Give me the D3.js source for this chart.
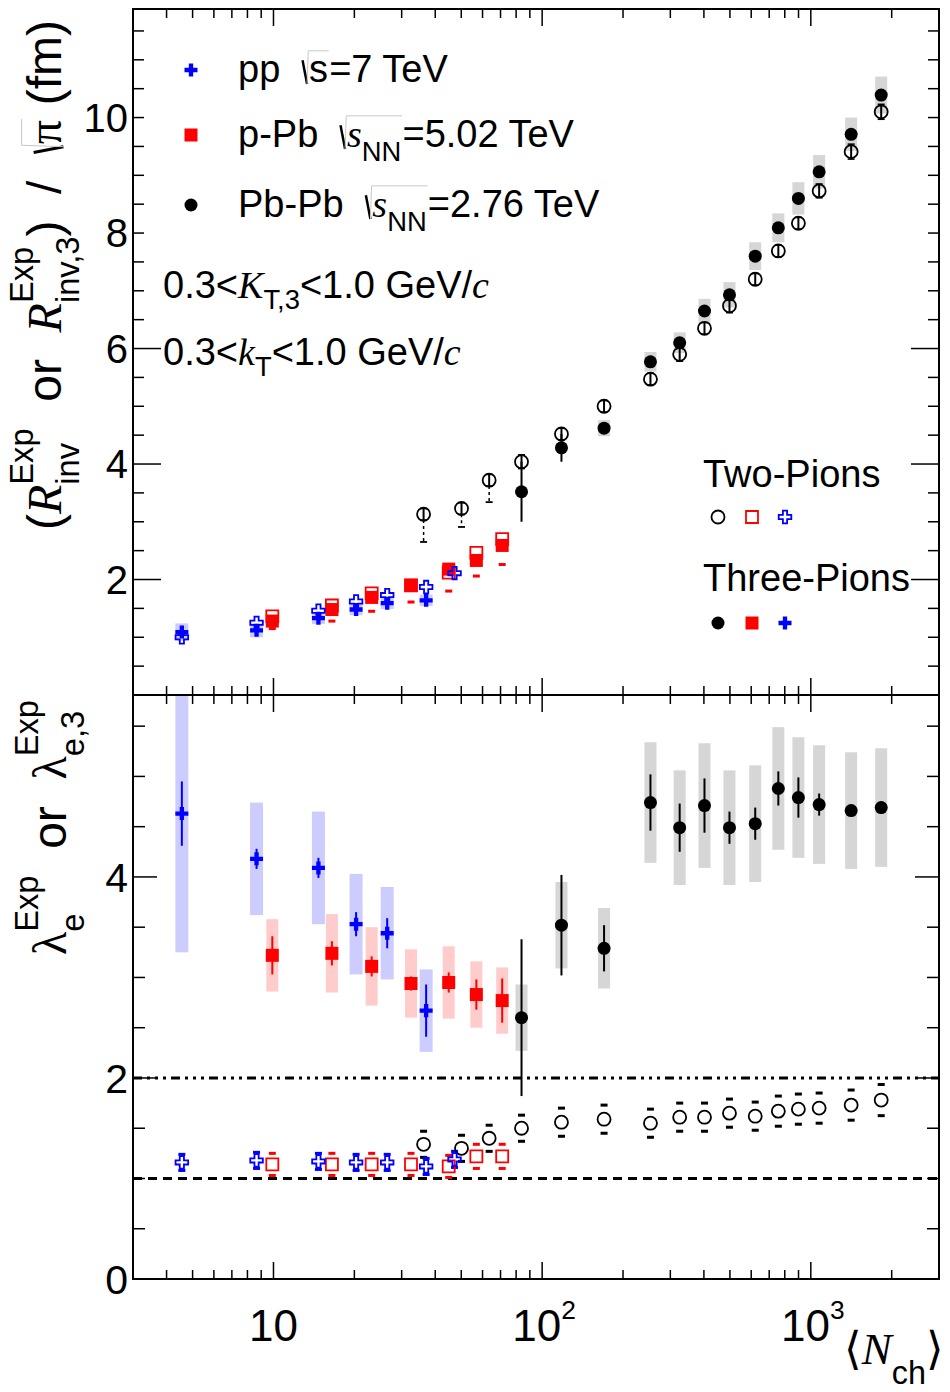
<!DOCTYPE html>
<html>
<head>
<meta charset="utf-8">
<script src="https://cdn.jsdelivr.net/npm/d3@7"></script>
<style>
  body { margin: 0; background: #fff; }
  svg { display: block; }
</style>
</head>
<body>
<div id="chart_div"></div>
<script>
const SANS = "'Liberation Sans', Arial, Helvetica, sans-serif"
const SERIF = "'Liberation Serif', 'Times New Roman', serif"

// ---- data: <N_ch> positions
const pbpbN2 = [36.2, 50.1, 63.5, 83.8, 118, 170, 253, 325, 402, 498, 621, 757, 899, 1074, 1413, 1828]
const pbpbN3 = [83.8, 118, 170, 253, 325, 402, 498, 621, 757, 899, 1074, 1413, 1828]
const ppbN = [9.9, 16.5, 23.2, 32.5, 44.9, 56.9, 71.0]
const ppN2 = [4.56, 8.65, 14.7, 20.3, 26.5, 37.0, 47.2]
const ppN3 = [4.56, 8.65, 14.7, 20.3, 26.5, 37.0]

// ---- top panel: R_inv / sqrt(pi)
const pbpbR3 = [3.52, 4.28, 4.62, 5.77, 6.10, 6.65, 6.93, 7.60, 8.09, 8.60, 9.06, 9.71, 10.39]
const pbpbR3Stat = [0.52, 0.24, 0.10, 0.05, 0.05, 0.05, 0.05, 0.05, 0.05, 0.05, 0.05, 0.06, 0.06]
const pbpbR3Sys = [0.05, 0.06, 0.14, 0.17, 0.18, 0.21, 0.22, 0.24, 0.25, 0.28, 0.29, 0.29, 0.32]
const pbpbR2 = [3.13, 3.23, 3.72, 4.04, 4.52, 5.00, 5.47, 5.90, 6.35, 6.74, 7.20, 7.69, 8.17, 8.73, 9.41, 10.10]
const pbpbR2Stat = [0.10, 0.10, 0.10, 0.12, 0.10, 0.10, 0.10, 0.12, 0.10, 0.12, 0.10, 0.10, 0.10, 0.12, 0.13, 0.13]
const pbpbR2SysLow = [2.65, 2.91, 3.34, null, null, null, null, null, null, null, null, null, null, null, null, null]
const ppbR3 = [1.28, 1.48, 1.69, 1.90, 2.18, 2.33, 2.59]
const ppbR2 = [1.36, 1.55, 1.76, 1.90, 2.12, 2.46, 2.70]
const ppbR2SysLow = [1.15, 1.28, 1.45, 1.61, 1.80, 2.06, 2.26]
const ppR3 = [1.09, 1.12, 1.33, 1.48, 1.59, 1.64]
const ppR3Sys = [0.15, 0.12, 0.10, 0.10, 0.10, 0.10]
const ppR2 = [1.00, 1.25, 1.46, 1.62, 1.73, 1.87, 2.11]

// ---- bottom panel: lambda_e
const pbpbL3 = [2.60, 3.52, 3.29, 4.74, 4.49, 4.71, 4.49, 4.53, 4.88, 4.79, 4.72, 4.66, 4.69]
const pbpbL3Stat = [0.78, 0.50, 0.23, 0.28, 0.24, 0.27, 0.16, 0.16, 0.17, 0.20, 0.11, 0.05, 0.06]
const pbpbL3Sys = [0.33, 0.43, 0.40, 0.60, 0.57, 0.62, 0.57, 0.58, 0.61, 0.60, 0.59, 0.58, 0.59]
const pbpbL2 = [1.34, 1.30, 1.40, 1.50, 1.56, 1.59, 1.55, 1.61, 1.61, 1.65, 1.62, 1.67, 1.69, 1.70, 1.73, 1.78]
const pbpbL2Sys = [0.13, 0.13, 0.13, 0.13, 0.14, 0.14, 0.14, 0.14, 0.14, 0.14, 0.14, 0.15, 0.15, 0.15, 0.15, 0.155]
const ppbL3 = [3.22, 3.24, 3.11, 2.94, 2.95, 2.83, 2.77]
const ppbL3Stat = [0.19, 0.12, 0.10, 0.07, 0.10, 0.15, 0.22]
const ppbL3Sys = [0.36, 0.39, 0.39, 0.34, 0.36, 0.33, 0.33]
const ppbL2 = [1.14, 1.14, 1.14, 1.14, 1.12, 1.22, 1.22]
const ppbL2Sys = [0.11, 0.11, 0.11, 0.11, 0.11, 0.12, 0.12]
const ppL3 = [4.63, 4.18, 4.09, 3.53, 3.44, 2.67]
const ppL3Stat = [0.32, 0.10, 0.10, 0.12, 0.15, 0.26]
const ppL3Sys = [1.38, 0.56, 0.56, 0.50, 0.46, 0.41]
const ppL2 = [1.16, 1.18, 1.17, 1.16, 1.16, 1.12, 1.19]
const ppL2Sys = [0.08, 0.08, 0.08, 0.08, 0.08, 0.08, 0.08]

// ---- reference lines and ticks
const refLines = [{y: 2, dash: "9,5,3,5,3,5,3,5"}, {y: 1, dash: "9,6"}]
const topTickValues = [2, 4, 6, 8, 10]
const topLongTicks = [2, 4, 6]
const botTickValues = [0, 2, 4]
const xTickValues = [10, 100, 1000]
const xTickExps = ["", "2", "3"]

// colours
const blue = "#0000ff", red = "#ff0000", black = "#000000"
const blueBox = "#ccccff", redBox = "#ffcccc", greyBox = "#d6d6d6"

// frame geometry
const L = 133, R = 939, T = 9, M = 695, B = 1279

const svg = d3.select("#chart_div")
  .append("svg")
  .attr("width", 950)
  .attr("height", 1392)
  .attr("viewBox", "0 0 950 1392")

// scales
const x = d3.scaleLog().domain([3, 3000]).range([L, R])
const yTop = d3.scaleLinear().domain([0, 11.88]).range([M, T])
const yBot = d3.scaleLinear().domain([0, 5.81]).range([B, M])

// ---------- small latex-ish text helper ----------
const addRun = (g, px, py, str, fs, p) => {
  const t = g.append("text")
    .attr("x", px).attr("y", py)
    .attr("font-family", p.f === "serif" ? SERIF : SANS)
    .attr("font-style", p.i ? "italic" : "normal")
    .attr("font-size", fs)
    .attr("fill", "#000")
    .text(str)
  return t.node().getComputedTextLength()
}

const layoutLatex = (g, parts, fs, x0) => {
  let xc = x0
  parts.forEach(p => {
    if (p.sqrt) {
      g.append("line")
        .attr("x1", xc + 0.03 * fs).attr("y1", -0.57 * fs)
        .attr("x2", xc + 0.15 * fs).attr("y2", 0.05 * fs)
        .attr("stroke", "#000").attr("stroke-width", 0.065 * fs)
      const xs = xc + 0.2 * fs
      const xe = layoutLatex(g, p.sqrt, fs, xs)
      g.append("path")
        .attr("d", `M${xc + 0.15 * fs},${0.05 * fs}L${xc + 0.18 * fs},${-0.82 * fs}L${xe + 0.02 * fs},${-0.82 * fs}`)
        .attr("fill", "none").attr("stroke", "#c8c8c8").attr("stroke-width", 1)
      xc = xe + 0.03 * fs
    } else if (p.sub !== undefined || p.sup !== undefined) {
      const ss = (p.ss || 0.72) * fs
      let w1 = 0, w2 = 0
      if (p.sup !== undefined) w1 = addRun(g, xc, -(p.up || 0.62) * fs, p.sup, ss, p)
      if (p.sub !== undefined) w2 = addRun(g, xc, (p.dn || 0.38) * fs, p.sub, ss, p)
      xc += Math.max(w1, w2)
    } else {
      xc += addRun(g, xc, 0, p.t, fs, p)
    }
  })
  return xc
}

const drawLatex = (parent, parts, fs, px, py, opts = {}) => {
  const outer = parent.append("g")
  const inner = outer.append("g")
  const w = layoutLatex(inner, parts, fs, 0)
  let dx = 0
  if (opts.anchor === "middle") dx = -w / 2
  if (opts.anchor === "end") dx = -w
  inner.attr("transform", `translate(${dx},0)`)
  outer.attr("transform", `translate(${px},${py})` + (opts.rotate ? ` rotate(${opts.rotate})` : ""))
  return w
}

// ---------- markers ----------
const symPath = (type, size) => d3.symbol().type(type).size(size)()
const M_CIRCLE = symPath(d3.symbolCircle, 133)
const M_SQUARE = symPath(d3.symbolSquare, 169)
const M_OSQUARE = symPath(d3.symbolSquare, 144)
const M_CROSS = symPath(d3.symbolCross, 94)
const M_OCROSS = symPath(d3.symbolCross, 88)

const zip = (xs, ys, extra = {}) => xs.map((d, i) => {
  const o = {x: d, y: ys[i]}
  Object.keys(extra).forEach(k => { o[k] = extra[k][i] })
  return o
})

const drawMarkers = (g, data, yS, path, fill, stroke) => {
  g.append("g").selectAll("path")
    .data(data)
    .join("path")
    .attr("d", path)
    .attr("transform", d => `translate(${x(d.x)},${yS(d.y)})`)
    .attr("fill", fill)
    .attr("stroke", stroke || "none")
    .attr("stroke-width", stroke ? 1.8 : 0)
}

const drawBoxes = (g, data, yS, w, fill) => {
  g.append("g").selectAll("rect")
    .data(data)
    .join("rect")
    .attr("x", d => x(d.x) - w / 2)
    .attr("width", w)
    .attr("y", d => yS(d.y + d.sys))
    .attr("height", d => yS(d.y - d.sys) - yS(d.y + d.sys))
    .attr("fill", fill)
}

const drawStat = (g, data, yS, color, cap) => {
  const eg = g.append("g")
  eg.selectAll("line")
    .data(data)
    .join("line")
    .attr("x1", d => x(d.x)).attr("x2", d => x(d.x))
    .attr("y1", d => yS(d.y - d.stat)).attr("y2", d => yS(d.y + d.stat))
    .attr("stroke", color).attr("stroke-width", 2)
  if (cap) {
    data.forEach(d => {
      [d.y - d.stat, d.y + d.stat].forEach(v => {
        eg.append("line")
          .attr("x1", x(d.x) - 3.5).attr("x2", x(d.x) + 3.5)
          .attr("y1", yS(v)).attr("y2", yS(v))
          .attr("stroke", color).attr("stroke-width", 1.5)
      })
    })
  }
}

const drawCaps = (g, data, yS, color) => {
  const cg = g.append("g")
  data.forEach(d => {
    [d.y - d.sys, d.y + d.sys].forEach(v => {
      cg.append("rect")
        .attr("x", x(d.x) - 3.5).attr("width", 7)
        .attr("y", yS(v) - 1.5).attr("height", 3)
        .attr("fill", color)
    })
  })
}

// clip paths
const defs = svg.append("defs")
defs.append("clipPath").attr("id", "clipTop").append("rect")
  .attr("x", L).attr("y", T).attr("width", R - L).attr("height", M - T)
defs.append("clipPath").attr("id", "clipBot").append("rect")
  .attr("x", L).attr("y", M).attr("width", R - L).attr("height", B - M)

// ================= top panel =================
const topPanel = svg.append("g").attr("clip-path", "url(#clipTop)")

// systematic boxes
drawBoxes(topPanel, zip(pbpbN3, pbpbR3, {sys: pbpbR3Sys}), yTop, 12, greyBox)
drawBoxes(topPanel, zip(ppN3, ppR3, {sys: ppR3Sys}), yTop, 13, blueBox)

// two-pion lower systematic (dashed) and stat bars
const pbpb2Top = zip(pbpbN2, pbpbR2, {stat: pbpbR2Stat, low: pbpbR2SysLow})
pbpb2Top.filter(d => d.low !== null).forEach(d => {
  topPanel.append("line")
    .attr("x1", x(d.x)).attr("x2", x(d.x))
    .attr("y1", yTop(d.y - d.stat)).attr("y2", yTop(d.low))
    .attr("stroke", black).attr("stroke-width", 1.5).attr("stroke-dasharray", "3,3")
  topPanel.append("line")
    .attr("x1", x(d.x) - 3.5).attr("x2", x(d.x) + 3.5)
    .attr("y1", yTop(d.low)).attr("y2", yTop(d.low))
    .attr("stroke", black).attr("stroke-width", 1.8)
})
zip(ppbN, ppbR2, {low: ppbR2SysLow}).forEach(d => {
  topPanel.append("rect")
    .attr("x", x(d.x) - 3.5).attr("width", 7)
    .attr("y", yTop(d.low) - 1.5).attr("height", 3)
    .attr("fill", red)
})

// Pb-Pb three-pion
const pbpb3Top = zip(pbpbN3, pbpbR3, {stat: pbpbR3Stat})
drawStat(topPanel, pbpb3Top, yTop, black, false)
drawMarkers(topPanel, pbpb3Top, yTop, M_CIRCLE, black)
// Pb-Pb two-pion
drawStat(topPanel, pbpb2Top, yTop, black, true)
drawMarkers(topPanel, pbpb2Top, yTop, M_CIRCLE, "none", black)

// p-Pb
drawMarkers(topPanel, zip(ppbN, ppbR3), yTop, M_SQUARE, red)
drawMarkers(topPanel, zip(ppbN, ppbR2), yTop, M_OSQUARE, "none", red)

// pp
drawMarkers(topPanel, zip(ppN3, ppR3), yTop, M_CROSS, blue)
drawMarkers(topPanel, zip(ppN2, ppR2), yTop, M_OCROSS, "none", blue)

// ================= bottom panel =================
const botPanel = svg.append("g").attr("clip-path", "url(#clipBot)")

drawBoxes(botPanel, zip(pbpbN3, pbpbL3, {sys: pbpbL3Sys}), yBot, 12, greyBox)
drawBoxes(botPanel, zip(ppbN, ppbL3, {sys: ppbL3Sys}), yBot, 12, redBox)
drawBoxes(botPanel, zip(ppN3, ppL3, {sys: ppL3Sys}), yBot, 13, blueBox)

// reference lines
botPanel.selectAll(".ref")
  .data(refLines)
  .join("line")
  .attr("x1", L).attr("x2", R)
  .attr("y1", d => yBot(d.y)).attr("y2", d => yBot(d.y))
  .attr("stroke", black).attr("stroke-width", 3)
  .attr("stroke-dasharray", d => d.dash)

// three-pion
const pbpb3Bot = zip(pbpbN3, pbpbL3, {stat: pbpbL3Stat})
const ppb3Bot = zip(ppbN, ppbL3, {stat: ppbL3Stat})
const pp3Bot = zip(ppN3, ppL3, {stat: ppL3Stat})
drawStat(botPanel, pbpb3Bot, yBot, black, false)
drawStat(botPanel, ppb3Bot, yBot, red, false)
drawStat(botPanel, pp3Bot, yBot, blue, false)
drawMarkers(botPanel, pbpb3Bot, yBot, M_CIRCLE, black)
drawMarkers(botPanel, ppb3Bot, yBot, M_SQUARE, red)
drawMarkers(botPanel, pp3Bot, yBot, M_CROSS, blue)

// two-pion
const pbpb2Bot = zip(pbpbN2, pbpbL2, {sys: pbpbL2Sys})
const ppb2Bot = zip(ppbN, ppbL2, {sys: ppbL2Sys})
const pp2Bot = zip(ppN2, ppL2, {sys: ppL2Sys})
drawCaps(botPanel, pbpb2Bot, yBot, black)
drawCaps(botPanel, ppb2Bot, yBot, red)
drawCaps(botPanel, pp2Bot, yBot, blue)
drawMarkers(botPanel, pbpb2Bot, yBot, M_CIRCLE, "none", black)
drawMarkers(botPanel, ppb2Bot, yBot, M_OSQUARE, "none", red)
drawMarkers(botPanel, pp2Bot, yBot, M_OCROSS, "none", blue)

// ================= axes / frame =================
const axes = svg.append("g").attr("stroke", black)

// frame
axes.append("rect")
  .attr("x", L).attr("y", T).attr("width", R - L).attr("height", B - T)
  .attr("fill", "none").attr("stroke-width", 2)
axes.append("line")
  .attr("x1", L).attr("x2", R).attr("y1", M).attr("y2", M)
  .attr("stroke-width", 2)

// x ticks (log) on all four horizontal edges
const xMinor = []
;[1, 10, 100, 1000].forEach(dec => {
  for (let k = 2; k <= 9; k++) {
    const v = k * dec
    if (v >= 3 && v <= 3000 && !xTickValues.includes(v)) xMinor.push(v)
  }
})
const xEdges = [{y: T, dir: 1}, {y: M, dir: -1}, {y: M, dir: 1}, {y: B, dir: -1}]
xEdges.forEach(e => {
  xTickValues.concat(xMinor).forEach(v => {
    const len = xTickValues.includes(v) ? 17 : 9
    axes.append("line")
      .attr("x1", x(v)).attr("x2", x(v))
      .attr("y1", e.y).attr("y2", e.y + e.dir * len)
      .attr("stroke-width", 1.5)
  })
})

// y ticks top panel
d3.range(0.5, 11.88, 0.5).forEach(v => {
  const len = topLongTicks.includes(v) ? 28 : 11
  axes.append("line").attr("x1", L).attr("x2", L + len)
    .attr("y1", yTop(v)).attr("y2", yTop(v)).attr("stroke-width", 1.5)
  axes.append("line").attr("x1", R).attr("x2", R - len)
    .attr("y1", yTop(v)).attr("y2", yTop(v)).attr("stroke-width", 1.5)
})
// y ticks bottom panel
d3.range(0.5, 5.81, 0.5).forEach(v => {
  const len = botTickValues.includes(v) ? 24 : 12
  axes.append("line").attr("x1", L).attr("x2", L + len)
    .attr("y1", yBot(v)).attr("y2", yBot(v)).attr("stroke-width", 1.5)
  axes.append("line").attr("x1", R).attr("x2", R - len)
    .attr("y1", yBot(v)).attr("y2", yBot(v)).attr("stroke-width", 1.5)
})

// tick labels
const labels = svg.append("g")
  .attr("font-family", SANS).attr("fill", black)
labels.selectAll(".yt")
  .data(topTickValues)
  .join("text")
  .attr("x", 128).attr("y", d => yTop(d) + 14)
  .attr("text-anchor", "end").attr("font-size", 40)
  .text(d => d)
labels.selectAll(".yb")
  .data(botTickValues)
  .join("text")
  .attr("x", 128).attr("y", d => yBot(d) + 15)
  .attr("text-anchor", "end").attr("font-size", 41)
  .text(d => d)
xTickValues.forEach((v, i) => {
  const parts = [{t: "10"}]
  if (xTickExps[i]) parts.push({sup: xTickExps[i], ss: 0.6, up: 0.5})
  drawLatex(svg, parts, 44, x(v) + (xTickExps[i] ? 2 : 0), 1341, {anchor: "middle"})
})

// axis titles
const sp = "\u00a0"
drawLatex(svg, [
  {t: "("}, {t: "R", f: "serif", i: true}, {sub: "inv", sup: "Exp", ss: 0.68, up: 0.58},
  {t: sp + sp + "or" + sp + sp}, {t: "R", f: "serif", i: true}, {sub: "inv,3", sup: "Exp", ss: 0.68, up: 0.58},
  {t: ")" + sp + sp + "/" + sp + sp}, {sqrt: [{t: "\u03c0", f: "serif"}]}, {t: sp + "(fm)"}
], 48, 61, 20, {anchor: "end", rotate: -90})

drawLatex(svg, [
  {t: "\u03bb", f: "serif"}, {sub: "e", sup: "Exp", ss: 0.68, up: 0.58},
  {t: sp + sp + "or" + sp + sp}, {t: "\u03bb", f: "serif"}, {sub: "e,3", sup: "Exp", ss: 0.68, up: 0.58}
], 48, 66, 700, {anchor: "end", rotate: -90})

drawLatex(svg, [
  {t: "\u27e8", f: "serif"}, {t: "N", f: "serif", i: true}, {sub: "ch", dn: 0.45},
  {t: "\u27e9", f: "serif"}
], 45, 944, 1364, {anchor: "end"})

// ================= legend =================
const leg = svg.append("g")
const legRows = [
  {y: 82, parts: [{t: "pp\u00a0\u00a0"}, {sqrt: [{t: "s"}]}, {t: "=7 TeV"}], path: M_CROSS, color: blue},
  {y: 147, parts: [{t: "p-Pb\u00a0\u00a0"}, {sqrt: [{t: "s", f: "serif", i: true}, {sub: "NN"}]}, {t: "=5.02 TeV"}], path: M_SQUARE, color: red},
  {y: 217, parts: [{t: "Pb-Pb\u00a0\u00a0"}, {sqrt: [{t: "s", f: "serif", i: true}, {sub: "NN"}]}, {t: "=2.76 TeV"}], path: M_CIRCLE, color: black}
]
legRows.forEach(r => {
  leg.append("path").attr("d", r.path)
    .attr("transform", `translate(191,${r.y - 12})`).attr("fill", r.color)
  drawLatex(leg, r.parts, 38, 238, r.y)
})
drawLatex(leg, [{t: "0.3<"}, {t: "K", f: "serif", i: true}, {sub: "T,3", dn: 0.3}, {t: "<1.0 GeV/"}, {t: "c", f: "serif", i: true}], 38, 163, 298)
drawLatex(leg, [{t: "0.3<"}, {t: "k", f: "serif", i: true}, {sub: "T", dn: 0.3}, {t: "<1.0 GeV/"}, {t: "c", f: "serif", i: true}], 38, 163, 365)

drawLatex(leg, [{t: "Two-Pions"}], 38, 703, 487)
drawLatex(leg, [{t: "Three-Pions"}], 38, 703, 591)
const legOpen = [{cx: 718, path: M_CIRCLE, color: black}, {cx: 752, path: M_OSQUARE, color: red}, {cx: 785, path: M_OCROSS, color: blue}]
const legFilled = [{cx: 718, path: M_CIRCLE, color: black}, {cx: 752, path: M_SQUARE, color: red}, {cx: 785, path: M_CROSS, color: blue}]
legOpen.forEach(m => {
  leg.append("path").attr("d", m.path).attr("transform", `translate(${m.cx},517)`)
    .attr("fill", "none").attr("stroke", m.color).attr("stroke-width", 1.8)
})
legFilled.forEach(m => {
  leg.append("path").attr("d", m.path).attr("transform", `translate(${m.cx},623)`)
    .attr("fill", m.color)
})
</script>
</body>
</html>
